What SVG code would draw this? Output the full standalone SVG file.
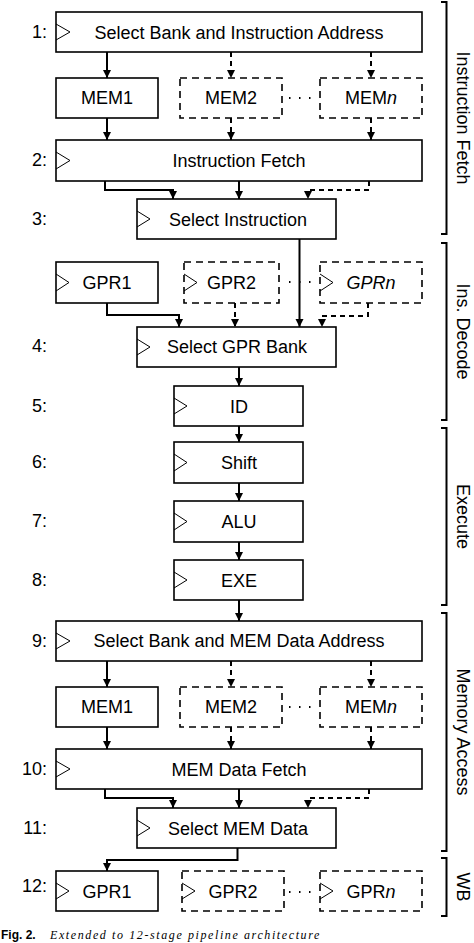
<svg xmlns="http://www.w3.org/2000/svg" width="474" height="943" viewBox="0 0 474 943">
<style>
.box{fill:#fff;stroke:#000;stroke-width:1.6}
.dbox{fill:#fff;stroke:#000;stroke-width:1.6;stroke-dasharray:7 5}
.clk{fill:none;stroke:#000;stroke-width:1}
.t{font-family:"Liberation Sans",Arial,sans-serif;font-size:18px;fill:#000;text-anchor:middle}
.lbl{font-family:"Liberation Sans",Arial,sans-serif;font-size:18px;fill:#000;text-anchor:end}
.c{fill:none;stroke:#000;stroke-width:2;marker-end:url(#ah)}
.cd{fill:none;stroke:#000;stroke-width:2;stroke-dasharray:5 4;marker-end:url(#ah)}
.dots{fill:none;stroke:#000;stroke-width:2;stroke-dasharray:1.5 8.5}
.br{fill:none;stroke:#000;stroke-width:2}
.st{font-family:"Liberation Sans",Arial,sans-serif;font-size:18px;fill:#000;text-anchor:middle}
</style>
<defs>
<marker id="ah" markerUnits="userSpaceOnUse" markerWidth="9" markerHeight="9" refX="8" refY="4" orient="auto">
<path d="M0,0 L8,4 L0,8 z" fill="#000"/>
</marker>
</defs>
<rect width="474" height="943" fill="#fff"/>

<g id="connectors">
<line class="c" x1="107" y1="52" x2="107" y2="78"/>
<line class="cd" x1="231" y1="52" x2="231" y2="78"/>
<line class="cd" x1="371" y1="52" x2="371" y2="78"/>
<line class="c" x1="107" y1="118" x2="107" y2="140"/>
<line class="cd" x1="231" y1="118" x2="231" y2="140"/>
<line class="cd" x1="371" y1="118" x2="371" y2="140"/>
<polyline class="c" points="105,181 105,190 173,190 173,199"/>
<line class="c" x1="239" y1="181" x2="239" y2="199"/>
<polyline class="cd" points="369,181 369,190 308,190 308,199"/>
<line class="c" x1="299.5" y1="239" x2="299.5" y2="327"/>
<polyline class="c" points="107,303 107,315 179,315 179,327"/>
<line class="cd" x1="235" y1="303" x2="235" y2="327"/>
<polyline class="cd" points="368,303 368,316 322,316 322,327"/>
<line class="c" x1="239" y1="367" x2="239" y2="386"/>
<line class="c" x1="239" y1="426" x2="239" y2="442"/>
<line class="c" x1="239" y1="483" x2="239" y2="501"/>
<line class="c" x1="239" y1="542" x2="239" y2="560"/>
<line class="c" x1="239" y1="600" x2="239" y2="621"/>
<line class="c" x1="107" y1="661" x2="107" y2="687"/>
<line class="cd" x1="231" y1="661" x2="231" y2="687"/>
<line class="cd" x1="371" y1="661" x2="371" y2="687"/>
<line class="c" x1="107" y1="727" x2="107" y2="749"/>
<line class="cd" x1="231" y1="727" x2="231" y2="749"/>
<line class="cd" x1="371" y1="727" x2="371" y2="749"/>
<polyline class="c" points="105,789 105,798 173,798 173,808"/>
<line class="c" x1="239" y1="789" x2="239" y2="808"/>
<polyline class="cd" points="369,789 369,798 308,798 308,808"/>
<polyline class="c" points="237.5,848 237.5,860 107,860 107,871"/>
<line class="dots" x1="289" y1="98" x2="315" y2="98"/>
<line class="dots" x1="289" y1="282" x2="315" y2="282"/>
<line class="dots" x1="289" y1="707" x2="315" y2="707"/>
<line class="dots" x1="289" y1="892" x2="315" y2="892"/>
</g>

<g id="labels">
<text class="lbl" x="47" y="38">1:</text>
<text class="lbl" x="47" y="166">2:</text>
<text class="lbl" x="47" y="225">3:</text>
<text class="lbl" x="47" y="352">4:</text>
<text class="lbl" x="47" y="412">5:</text>
<text class="lbl" x="47" y="468">6:</text>
<text class="lbl" x="47" y="527">7:</text>
<text class="lbl" x="47" y="586">8:</text>
<text class="lbl" x="47" y="647">9:</text>
<text class="lbl" x="47" y="775">10:</text>
<text class="lbl" x="47" y="834">11:</text>
<text class="lbl" x="47" y="892">12:</text>
</g>

<g id="n1"><rect class="box" x="56" y="12" width="366" height="40"/><polyline class="clk" points="56,24 70,32 56,40"/><text class="t" x="239" y="38.5">Select Bank and Instruction Address</text></g>
<g id="mem1a"><rect class="box" x="56" y="78" width="102" height="40"/><text class="t" x="107" y="104">MEM1</text></g>
<g id="mem2a"><rect class="dbox" x="180" y="78" width="102" height="40"/><text class="t" x="231" y="104">MEM2</text></g>
<g id="memna"><rect class="dbox" x="320" y="78" width="102" height="40"/><text class="t" x="371" y="104">MEM<tspan font-style="italic">n</tspan></text></g>
<g id="n2"><rect class="box" x="56" y="140" width="366" height="41"/><polyline class="clk" points="56,152 70,160.5 56,169"/><text class="t" x="239" y="166.5">Instruction Fetch</text></g>
<g id="n3"><rect class="box" x="137" y="199" width="199" height="40"/><polyline class="clk" points="137,211 150,219 137,227"/><text class="t" x="238" y="225.5">Select Instruction</text></g>
<g id="gpr1a"><rect class="box" x="56" y="262" width="102" height="41"/><polyline class="clk" points="56,274 69,282.5 56,291"/><text class="t" x="107" y="288.5">GPR1</text></g>
<g id="gpr2a"><rect class="dbox" x="184" y="262" width="95" height="41"/><polyline class="clk" points="184,274 197,282.5 184,291"/><text class="t" x="231.5" y="288.5">GPR2</text></g>
<g id="gprna"><rect class="dbox" x="320" y="262" width="102" height="41"/><polyline class="clk" points="320,274 333,282.5 320,291"/><text class="t" x="371" y="288.5" font-style="italic">GPRn</text></g>
<g id="n4"><rect class="box" x="137" y="327" width="199" height="40"/><polyline class="clk" points="137,339 150,347 137,355"/><text class="t" x="237" y="353">Select GPR Bank</text></g>
<g id="n5"><rect class="box" x="174" y="386" width="129" height="40"/><polyline class="clk" points="174,398 187,406 174,414"/><text class="t" x="239" y="412.5">ID</text></g>
<g id="n6"><rect class="box" x="174" y="442" width="129" height="41"/><polyline class="clk" points="174,454 187,462.5 174,471"/><text class="t" x="239" y="468.5">Shift</text></g>
<g id="n7"><rect class="box" x="174" y="501" width="129" height="41"/><polyline class="clk" points="174,513 187,521.5 174,530"/><text class="t" x="239" y="527.5">ALU</text></g>
<g id="n8"><rect class="box" x="174" y="560" width="129" height="40"/><polyline class="clk" points="174,572 187,580 174,588"/><text class="t" x="239" y="586.5">EXE</text></g>
<g id="n9"><rect class="box" x="56" y="621" width="366" height="40"/><polyline class="clk" points="56,633 70,641 56,649"/><text class="t" x="239" y="647">Select Bank and MEM Data Address</text></g>
<g id="mem1b"><rect class="box" x="56" y="687" width="102" height="40"/><text class="t" x="107" y="713">MEM1</text></g>
<g id="mem2b"><rect class="dbox" x="180" y="687" width="102" height="40"/><text class="t" x="231" y="713">MEM2</text></g>
<g id="memnb"><rect class="dbox" x="320" y="687" width="102" height="40"/><text class="t" x="371" y="713">MEM<tspan font-style="italic">n</tspan></text></g>
<g id="n10"><rect class="box" x="56" y="749" width="366" height="40"/><polyline class="clk" points="56,761 70,769 56,777"/><text class="t" x="239" y="775.5">MEM Data Fetch</text></g>
<g id="n11"><rect class="box" x="137" y="808" width="199" height="40"/><polyline class="clk" points="137,820 150,828 137,836"/><text class="t" x="238" y="834.5">Select MEM Data</text></g>
<g id="gpr1b"><rect class="box" x="56" y="871" width="102" height="40"/><polyline class="clk" points="56,883 69,891 56,899"/><text class="t" x="107" y="897.5">GPR1</text></g>
<g id="gpr2b"><rect class="dbox" x="182" y="871" width="102" height="40"/><polyline class="clk" points="182,883 195,891 182,899"/><text class="t" x="233" y="897.5">GPR2</text></g>
<g id="gprnb"><rect class="dbox" x="320" y="871" width="102" height="40"/><polyline class="clk" points="320,883 333,891 320,899"/><text class="t" x="371" y="897.5">GPR<tspan font-style="italic">n</tspan></text></g>

<g id="stages">
<polyline class="br" points="441,2 446.5,2 446.5,234 441,234"/>
<text class="st" transform="translate(457,118) rotate(90)">Instruction Fetch</text>
<polyline class="br" points="441,243 446.5,243 446.5,420 441,420"/>
<text class="st" transform="translate(457,331.5) rotate(90)">Ins. Decode</text>
<polyline class="br" points="441,428 446.5,428 446.5,605 441,605"/>
<text class="st" transform="translate(457,516.5) rotate(90)">Execute</text>
<polyline class="br" points="441,613 446.5,613 446.5,851 441,851"/>
<text class="st" transform="translate(457,732) rotate(90)">Memory Access</text>
<polyline class="br" points="441,858 446.5,858 446.5,916 441,916"/>
<text class="st" transform="translate(457,887) rotate(90)">WB</text>
</g>

<g id="caption">
<text x="1" y="939" font-family="Liberation Sans,Arial,sans-serif" font-size="12" font-weight="bold">Fig. 2.</text>
<text x="50" y="939" font-family="Liberation Serif,Times New Roman,serif" font-size="12" font-style="italic" letter-spacing="1.6">Extended to 12-stage pipeline architecture</text>
</g>
</svg>
